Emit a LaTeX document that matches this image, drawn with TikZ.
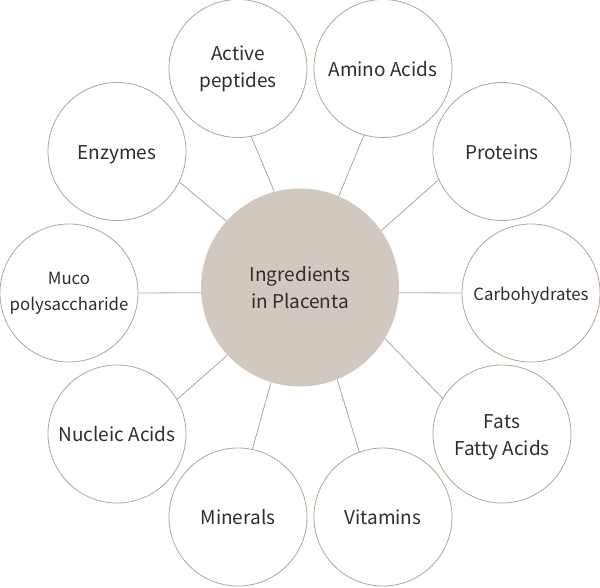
\documentclass[tikz,border=0pt]{standalone}
\usepackage{fontspec}
\setmainfont{Noto Sans CJK KR}
\definecolor{ring}{HTML}{B3A595}
\definecolor{hub}{HTML}{D1C9BF}
\definecolor{txt}{HTML}{2E2E2E}
\begin{document}
\begin{tikzpicture}[x=1pt,y=-1pt,
  struts/.style={execute at begin node={\rule{0pt}{20pt}}, execute at end node={\rule[-5pt]{0pt}{5pt}}},
  twoline/.style={text height=47pt, text depth=5pt},
  leaf/.style={circle, draw=ring, line width=0.8pt, fill=white, minimum size=138pt, inner sep=0pt, align=center, text=txt, font=\fontsize{19}{27}\selectfont, struts},
  small/.style={font=\fontsize{16.8}{26}\selectfont},
  hubnode/.style={circle, fill=hub, minimum size=198pt, inner sep=0pt, align=center, text=txt, font=\fontsize{19}{27}\selectfont, struts},
  link/.style={draw=ring, line width=0.8pt}]
\useasboundingbox (0,0) rectangle (600,587);
\node[hubnode, twoline, text height=46.6pt] (c) at (300,287.5) {Ingredients\\in Placenta};
\node[leaf, twoline, text height=42.6pt] (pep) at (238,68.5) {Active\\peptides};
\node[leaf] (amino) at (383,68.5) {Amino Acids};
\node[leaf] (prot) at (502,151.5) {Proteins};
\node[leaf, small] (carb) at (531,293) {Carbohydrates};
\node[leaf, twoline] (fats) at (502,434) {Fats\\Fatty Acids};
\node[leaf] (vit) at (383,517) {Vitamins};
\node[leaf] (min) at (238,517) {Minerals};
\node[leaf] (nuc) at (117,434) {Nucleic Acids};
\node[leaf, small, twoline, text height=39pt] (muco) at (69,293) {Muco\\polysaccharide};
\node[leaf] (enz) at (117,151.5) {Enzymes};
\draw[link] (pep.-79.5) -- (c.105.6);
\draw[link] (amino.-106) -- (c.67.8);
\draw[link] (enz.-26.3) -- (c.138);
\draw[link] (prot.204.4) -- (c.35.6);
\draw[link] (muco.east) -- (c.183.2);
\draw[link] (carb.west) -- (c.-3.2);
\draw[link] (nuc.30.9) -- (c.223.1);
\draw[link] (fats.149) -- (c.-31.9);
\draw[link] (min.78.6) -- (c.253.6);
\draw[link] (vit.110) -- (c.-68.5);
\end{tikzpicture}
\end{document}
